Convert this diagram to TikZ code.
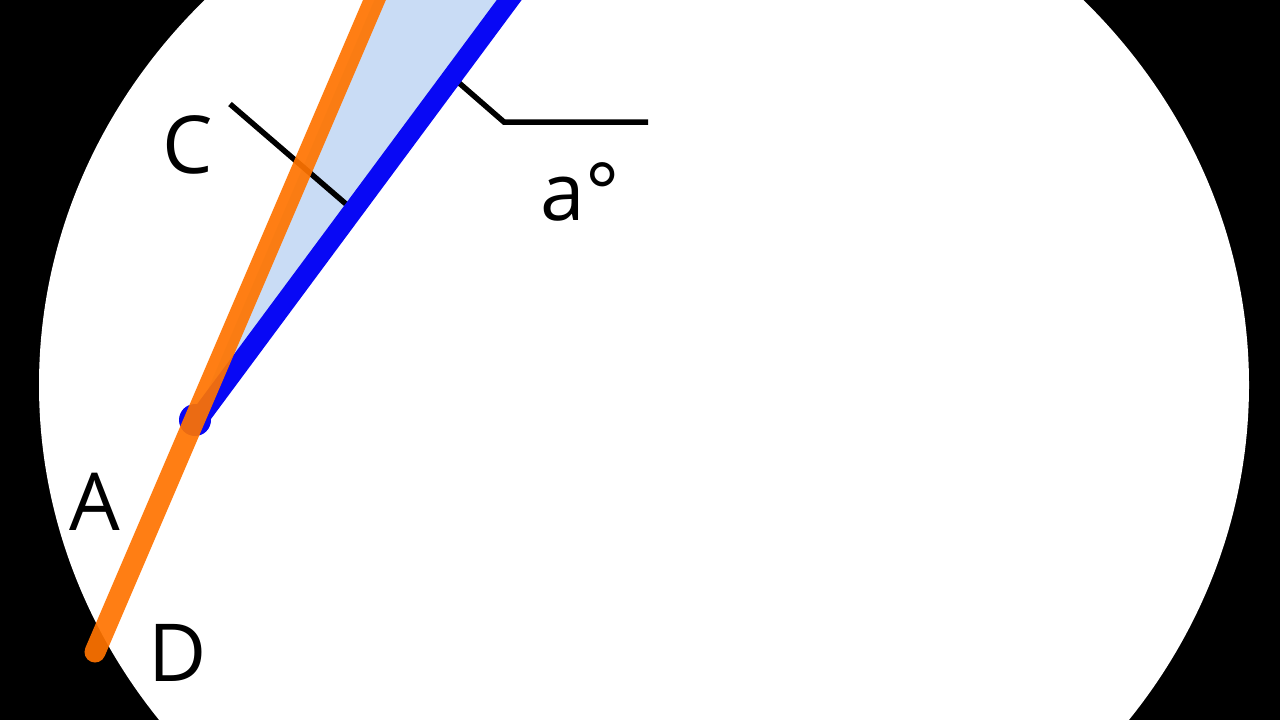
\documentclass[tikz,border=0pt]{standalone}
\usepackage{fontspec}
\setsansfont{Open Sans}
\definecolor{orangeline}{RGB}{255,116,0}
\definecolor{blueline}{RGB}{8,8,245}
\definecolor{wedgefill}{RGB}{201,220,245}
\tikzset{
  lbl/.style={font=\sffamily\fontsize{40}{42}\selectfont, inner sep=0pt, anchor=base},
  tickline/.style={draw=black, line width=2.75pt},
  orangestroke/.style={draw=orangeline, line width=10.5pt, line cap=round, opacity=0.92},
  bluestroke/.style={draw=blueline, line width=10pt, line cap=round}
}
\begin{document}
\begin{tikzpicture}[x=0.5pt,y=-0.5pt]
\fill[black] (0,0) rectangle (1280,720);
\useasboundingbox (0,0) rectangle (1280,720);
\clip (0,0) rectangle (1280,720);
\fill[white] (644,385) ellipse [x radius=302.5pt, y radius=280pt];
% points
\coordinate (V) at (200,417);
\coordinate (Vdot) at (195,420);
\coordinate (B0) at (509,0);
\coordinate (Btop) at (524,-20);
\coordinate (Otop) at (383,-20);
\coordinate (Dend) at (95,652);
% wedge
\fill[wedgefill] (Vdot) -- (Otop) -- (Btop) -- (V) -- cycle;
% ticks
\coordinate (c1) at (230,104);
\coordinate (c2) at (346,204);
\coordinate (a1) at (458,82);
\coordinate (a2) at (504,122);
\coordinate (a3) at (648,122);
\draw[tickline] (c1) -- (c2);
\draw[tickline] (a1) -- (a2) -- (a3);
% blue line and end dot
\fill[blueline] (Vdot) circle [radius=8pt];
\draw[bluestroke] (V) -- (Btop);
% orange line
\draw[orangestroke] (Dend) -- (Otop);
% labels
\node[lbl] (C) at (188,173) {C};
\node[lbl] (aDeg) at (580,220) {a°};
\node[lbl] (A) at (95,530) {A};
\node[lbl] (D) at (178,681) {D};
\end{tikzpicture}
\end{document}
